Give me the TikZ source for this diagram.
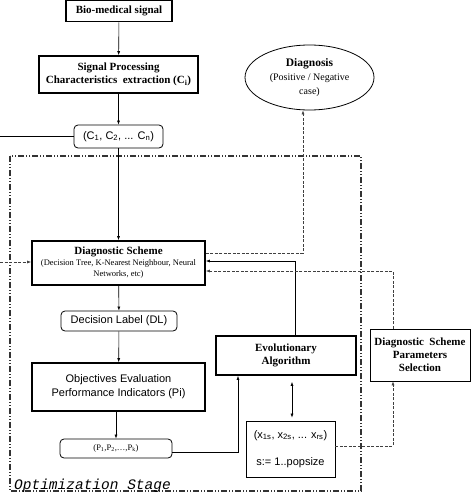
\documentclass[tikz,border=0pt]{standalone}
\usepackage{fontspec}
\setmainfont{Liberation Serif}
\setsansfont{Liberation Sans}
\setmonofont{Liberation Mono}
\usetikzlibrary{shapes.geometric,arrows.meta}

\tikzset{
  >={Latex[length=4pt,width=3pt]},
  boldbox/.style={draw, line width=1.6pt, inner sep=0pt, align=center, font=\fontsize{11}{13}\selectfont},
  thinbox/.style={draw, line width=0.8pt, inner sep=0pt, align=center, font=\fontsize{11}{13}\selectfont},
  roundbox/.style={draw, line width=0.8pt, rounded corners=4pt, inner sep=0pt, align=center, font=\sffamily\fontsize{11}{13}\selectfont},
  link/.style={line width=0.6pt},
  dlink/.style={line width=0.6pt, gray!50!black, dash pattern=on 3pt off 1.5pt},
  stageframe/.style={line width=1.2pt, gray!40!black, dash pattern=on 6pt off 2pt on 1pt off 2pt on 1pt off 2pt}
}

\begin{document}
\begin{tikzpicture}[x=1pt,y=-1pt]
	\useasboundingbox (0,0) rectangle (474,493);
	% optimization frame
	\draw[stageframe] (10,156) rectangle (361,491);
	\node[anchor=base west, inner sep=0pt, font=\ttfamily\itshape\fontsize{14.5}{16}\selectfont] (stage) at (14,489) {Optimization Stage};
	% nodes
	\node[boldbox, minimum width=106pt, minimum height=21pt] (bio) at (119,11) {\bfseries Bio-medical signal};
	\node[boldbox, minimum width=159pt, minimum height=37pt] (sp) at (118.5,74.5) {\bfseries Signal Processing\\ \bfseries Characteristics\ \ extraction (C\textsubscript{i})};
	\node[roundbox, minimum width=89pt, minimum height=23pt] (cvec) at (118.5,136.5) {(C\textsubscript{1}, C\textsubscript{2}, ... C\textsubscript{n})};
	\node[draw, ellipse, line width=0.8pt, inner sep=0pt, minimum width=129pt, minimum height=65pt, align=center, font=\fontsize{10}{14}\selectfont] (diag) at (309.5,77.5) {{\fontsize{11.5}{13}\selectfont\bfseries Diagnosis}\\(Positive / Negative\\case)};
	\node[boldbox, minimum width=173pt, minimum height=44pt] (ds) at (118.5,263) {\bfseries Diagnostic Scheme\\[-2pt] {\fontsize{8.5}{11}\selectfont (Decision Tree, K-Nearest Neighbour, Neural}\\[-2pt] {\fontsize{8.5}{11}\selectfont Networks, etc)}};
	\node[roundbox, minimum width=116pt, minimum height=20pt] (dl) at (119,321) {Decision Label (DL)};
	\node[boldbox, minimum width=173pt, minimum height=48pt, font=\sffamily\fontsize{11}{14}\selectfont] (obj) at (118.5,387) {Objectives Evaluation\\Performance Indicators (Pi)};
	\node[roundbox, minimum width=112pt, minimum height=19pt, font=\rmfamily\fontsize{8.5}{10}\selectfont] (pvec) at (116,448.5) {(P\textsubscript{1},P\textsubscript{2},\dots,P\textsubscript{k})};
	\node[boldbox, minimum width=140pt, minimum height=39pt] (ea) at (286,355.5) {\bfseries Evolutionary\\ \bfseries Algorithm};
	\node[thinbox, minimum width=89pt, minimum height=56pt, font=\sffamily\fontsize{11}{13}\selectfont] (xvec) at (290.5,449) {(x\textsubscript{1s}, x\textsubscript{2s}, ... x\textsubscript{rs})\\[14pt]s:= 1..popsize};
	\node[thinbox, minimum width=100pt, minimum height=52pt] (dsps) at (420,355) {\bfseries Diagnostic\ \ Scheme\\ \bfseries Parameters\\ \bfseries Selection};
	\coordinate (cin) at (0,136);
	\coordinate (dsin) at (0,262);
	% connectors
	\draw[link,->] (bio) -- (sp);
	\draw[link,->] (sp) -- (cvec);
	\draw[link] (cin) -- (cin -| cvec.west);
	\draw[link,->] (cvec) -- (ds);
	\draw[dlink,->] (dsin) -- (dsin -| ds.west);
	\draw[dlink,->] ([yshift=10pt]ds.east) -| ([xshift=-6.5pt]diag.south);
	\draw[link,->] ([xshift=9pt]ea.north) |- ([yshift=2pt]ds.east);
	\draw[dlink,->] ([xshift=-27pt]dsps.north) |- ([yshift=-8pt]ds.east);
	\draw[link,->] (ds) -- (dl);
	\draw[link,->] (dl) -- (obj);
	\draw[link,->] (obj.south -| pvec.north) -- (pvec.north);
	\draw[link,->] ([yshift=-3.5pt]pvec.east) -| ([xshift=-48pt]ea.south);
	\draw[link,<->, shorten <=6pt, shorten >=3pt] ([xshift=6pt]ea.south) -- ([xshift=1.5pt]xvec.north);
	\draw[dlink,->] ([yshift=3pt]xvec.east) -| ([xshift=-27pt]dsps.south);
\end{tikzpicture}
\end{document}
